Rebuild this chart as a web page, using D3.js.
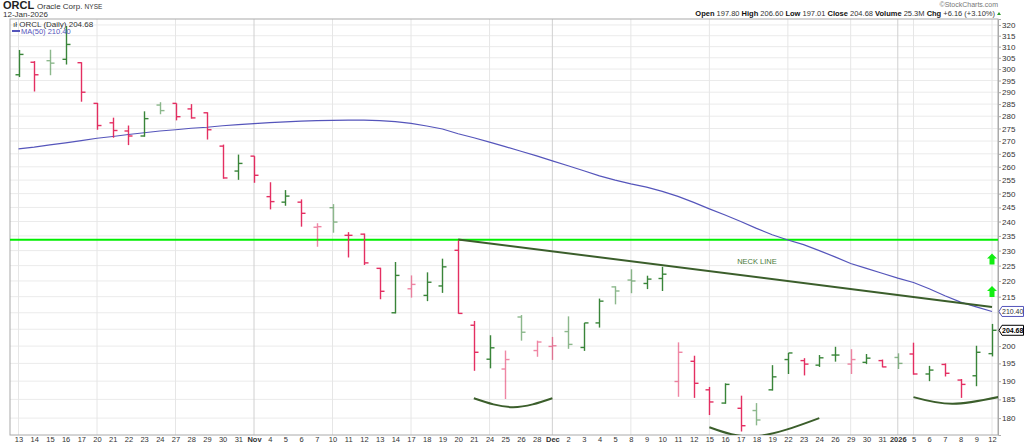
<!DOCTYPE html>
<html>
<head>
<meta charset="utf-8">
<script src="https://cdnjs.cloudflare.com/ajax/libs/d3/7.8.5/d3.min.js"></script>
<style>
body { margin: 0; background: #fff; font-family: Arial, "Liberation Sans", sans-serif; }
</style>
</head>
<body>
<script>
// dates shown on the x axis (one per trading day)
var dates = ["13","14","15","16","17","20","21","22","23","24","27","28","29","30","31",
  "Nov","4","5","6","7","10","11","12","13","14","17","18","19","20","21","24","25","26","28",
  "Dec","2","3","4","5","8","9","10","11","12","15","16","17","18","19","22","23","24","26","29","30","31",
  "2026","5","6","7","8","9","12"];
var opens  = [297.5,303,303.7,304.3,302.8,285.3,277.3,274,272,284.6,285.3,283,281.4,268,258.4,264.1,248.9,246.9,246.9,238,244.9,235.2,235.6,224.1,210,217.5,215.4,218.4,230.1,206.2,196.2,193.4,208.7,198.7,199.9,204.3,199.6,206.9,218.1,220.3,219.2,220.8,189.9,195.6,187.6,184,182.6,182,187.6,196.1,195.8,194.5,197.4,194.8,195.3,195.8,196.7,197.7,192,194.7,190.3,191.5,197.8];
var highs  = [308.5,303.5,308.6,319.5,303,285.5,279.4,276.2,282,285.8,285.3,285,281.6,268.6,264.7,264.1,254.2,251.3,247.9,239.4,246.2,236.3,235.8,224.3,226.2,221.8,222.8,227.3,233.4,207.5,203.2,198.7,209.3,201.6,202.7,208.9,206.9,214.4,218.3,223.8,221.7,224.6,201.1,197.2,188.4,189.4,186,184,194.5,198,196.5,197.4,199.8,199.1,197.7,196.1,197.9,201,194.3,195,190.6,200.1,206.6];
var lows   = [296.5,290.3,297.3,302,286,274.5,271.3,268.4,271.7,280.8,278.3,279,270.6,255.5,255.1,254,244.3,245.6,238.2,231.3,236.1,227.7,225.2,214.2,209.8,214.7,213.6,216.2,209.7,192.9,193.6,185.1,201.6,196.9,196,199.2,198.6,205.5,212.6,216.1,217.4,216.8,185.7,185.4,180.8,183.8,176.5,178.1,187.4,192,191.6,194,195.5,192,194.8,193.9,193.4,191.8,190,191.3,185.4,188.6,197.01];
var closes = [306.5,297.5,302.6,311,290,276.2,274.2,272,279,282.3,279.8,279.3,274.5,255.8,261.3,256.8,247.1,249.1,242.9,238.2,239.8,235.2,225.9,216.7,221.8,218.9,219.6,224.6,209.8,198.2,199.5,196.1,204.1,201.2,200.1,200.5,206.9,213.6,216.8,220,220.6,222.2,198.2,189.4,184.3,189.1,178,179.5,191.2,198,194.8,196.6,197.4,196.1,196.5,194,195,192,193.1,192.2,189.1,198.2,204.68];
var ma50 = [266.9,267.6,268.5,269.3,270.2,271.1,271.8,272.6,273.3,274,274.5,275.1,275.5,276.1,276.6,277,277.4,277.7,278,278.2,278.3,278.4,278.4,278.2,277.8,277.1,276,274.8,272.9,271.3,269.6,267.8,266,264.2,262.3,260.4,258.5,256.6,255,253.6,252.4,250.8,249,246.8,244.5,242.3,240,237.6,235.4,233.6,232,230,227.9,225.7,224.1,222.5,220.9,219.5,217.5,215.3,213.3,211.8,210.4];
var yTicks = d3.range(180, 321, 5);
var gridIdx = [0,5,10,20,25,30,39,44,49,53,57,62];
var monthIdx = [15,34,56];
var resistance = 233.7;
var neckline = [[28, 233.8], [62, 211.8]];
var cups = [
  [[29, 185.3], [31.5, 182.9], [34, 185.3]],
  [[44, 177.6], [47, 175.3], [51, 180.0]],
  [[57, 185.6], [59.5, 183.8], [62.6, 185.8]]
];
var arrows = [227, 216.5];

function draw() {
  var W = 1024, H = 446;
  var pL = 10, pR = 998, pT = 19, pB = 435;
  var svg = d3.select("body").append("svg").attr("width", W).attr("height", H);

  var x = d3.scaleLinear().domain([0, dates.length - 1]).range([18.5, 992]);
  var y = d3.scaleLog().domain([175.6, 322.8]).range([pB, pT]);

  svg.append("defs").append("clipPath").attr("id", "plot")
     .append("rect").attr("x", pL).attr("y", pT).attr("width", pR - pL).attr("height", pB - pT);

  // grid
  svg.selectAll(".hg").data(yTicks).enter().append("line")
     .attr("x1", pL).attr("x2", pR).attr("y1", d => y(d)).attr("y2", d => y(d))
     .attr("stroke", "#ebebeb");
  svg.selectAll(".vg").data(gridIdx).enter().append("line")
     .attr("x1", d => x(d)).attr("x2", d => x(d)).attr("y1", pT).attr("y2", pB)
     .attr("stroke", "#e6e6e6");
  svg.selectAll(".mg").data(monthIdx).enter().append("line")
     .attr("x1", d => x(d)).attr("x2", d => x(d)).attr("y1", pT).attr("y2", pB)
     .attr("stroke", "#d0d0d0");

  svg.append("rect").attr("x", pL).attr("y", pT).attr("width", pR - pL).attr("height", pB - pT)
     .attr("fill", "none").attr("stroke", "#aaa");

  // axes
  var yAxis = d3.axisRight(y).tickValues(yTicks).tickFormat(d3.format("d")).tickSize(3);
  var ga = svg.append("g").attr("transform", "translate(" + pR + ",0)").call(yAxis);
  ga.select(".domain").attr("stroke", "#aaa");
  ga.selectAll("line").attr("stroke", "#aaa");
  ga.selectAll("text").attr("font-size", 8).attr("fill", "#333").attr("x", 4);

  var xAxis = d3.axisBottom(x).tickValues(d3.range(dates.length)).tickFormat(i => dates[i]).tickSize(0);
  var gx = svg.append("g").attr("transform", "translate(0," + pB + ")").call(xAxis);
  gx.select(".domain").remove();
  gx.selectAll("text").attr("font-size", 7.5).attr("fill", "#333").attr("y", 1.5)
    .attr("font-weight", d => monthIdx.includes(d) ? "bold" : "normal");

  var g = svg.append("g").attr("clip-path", "url(#plot)");

  // resistance line
  g.append("line").attr("x1", pL).attr("x2", pR)
   .attr("y1", y(resistance)).attr("y2", y(resistance))
   .attr("stroke", "#00ee00").attr("stroke-width", 2);

  // MA(50)
  g.append("path").datum(ma50)
   .attr("d", d3.line().x((d, i) => x(i)).y(d => y(d)))
   .attr("fill", "none").attr("stroke", "#5555bb").attr("stroke-width", 1.2);

  // neckline
  g.append("line")
   .attr("x1", x(neckline[0][0])).attr("y1", y(neckline[0][1]))
   .attr("x2", x(neckline[1][0])).attr("y2", y(neckline[1][1]))
   .attr("stroke", "#3b5e2b").attr("stroke-width", 2);

  g.append("text").attr("x", 757).attr("y", y(225.6)).attr("text-anchor", "middle")
   .attr("font-size", 7.5).attr("fill", "#4a7a3a").text("NECK LINE");

  // cups
  cups.forEach(function(c) {
    g.append("path").datum(c)
     .attr("d", d3.line().x(d => x(d[0])).y(d => y(d[1])).curve(d3.curveNatural))
     .attr("fill", "none").attr("stroke", "#3b5e2b").attr("stroke-width", 2);
  });

  // arrows
  arrows.forEach(function(v) {
    var cx = 992, cy = y(v);
    g.append("path")
     .attr("d", "M" + cx + "," + (cy - 6) + " L" + (cx + 5) + "," + (cy - 1) + " L" + (cx + 2.5) + "," + (cy - 1) +
          " L" + (cx + 2.5) + "," + (cy + 5) + " L" + (cx - 2.5) + "," + (cy + 5) + " L" + (cx - 2.5) + "," + (cy - 1) +
          " L" + (cx - 5) + "," + (cy - 1) + "Z")
     .attr("fill", "#11ee11");
  });

  // OHLC bars
  d3.range(dates.length).forEach(function(i) {
    var up = i == 0 ? closes[i] > opens[i] : closes[i] >= closes[i - 1];
    var col = up ? "#2f7f2f" : "#e3245a";
    var light = up ? closes[i] < opens[i] : closes[i] > opens[i];
    var bg = g.append("g").attr("stroke", col).attr("stroke-width", 1.4).attr("opacity", light ? 0.55 : 0.95);
    var xi = Math.round(x(i)) + 0.5;
    bg.append("line").attr("x1", xi).attr("x2", xi).attr("y1", y(highs[i])).attr("y2", y(lows[i]));
    bg.append("line").attr("x1", xi - 4).attr("x2", xi).attr("y1", y(opens[i])).attr("y2", y(opens[i]));
    bg.append("line").attr("x1", xi).attr("x2", xi + 4).attr("y1", y(closes[i])).attr("y2", y(closes[i]));
  });

  // legend in plot
  svg.append("text").attr("x", 13).attr("y", 27).attr("font-size", 8).attr("fill", "#333")
     .text("\u0131\u0142 ORCL (Daily) 204.68");
  svg.append("line").attr("x1", 12).attr("x2", 20).attr("y1", 31).attr("y2", 31).attr("stroke", "#5555bb").attr("stroke-width", 2);
  svg.append("text").attr("x", 21).attr("y", 34).attr("font-size", 7.5).attr("fill", "#5555bb").text("MA(50) 210.40");

  // right-side value tags
  [[ma50[ma50.length - 1], "210.40", "#5555bb", "normal"], [closes[closes.length - 1], "204.68", "#000", "bold"]].forEach(function(t) {
    var ty = y(t[0]);
    svg.append("path").attr("d", "M" + (pR + 1) + "," + ty + " l3,-5 h21.5 v10 h-21.5 z")
       .attr("fill", "#fff").attr("stroke", t[2]);
    svg.append("text").attr("x", pR + 4).attr("y", ty + 2.5).attr("font-size", 7)
       .attr("font-weight", t[3]).attr("fill", t[2] == "#000" ? "#000" : "#333").text(t[1]);
  });

  // header
  var hd = svg.append("text").attr("x", 3).attr("y", 9);
  hd.append("tspan").attr("font-size", 11).attr("font-weight", "bold").attr("fill", "#222").text("ORCL ");
  hd.append("tspan").attr("font-size", 8).attr("fill", "#333").text("Oracle Corp. ");
  hd.append("tspan").attr("font-size", 6.5).attr("fill", "#333").text("NYSE");
  svg.append("text").attr("x", 3).attr("y", 17).attr("font-size", 8).attr("fill", "#333").text("12-Jan-2026");

  svg.append("text").attr("x", 998).attr("y", 7).attr("text-anchor", "end").attr("font-size", 7).attr("fill", "#777").text("\u00A9StockCharts.com");
  var st = svg.append("text").attr("x", 995).attr("y", 16).attr("text-anchor", "end").attr("font-size", 7.5).attr("fill", "#333");
  [["Open", "197.80"], ["High", "206.60"], ["Low", "197.01"], ["Close", "204.68"], ["Volume", "25.3M"], ["Chg", "+6.16 (+3.10%)"]].forEach(function(p, k) {
    st.append("tspan").attr("font-weight", "bold").attr("fill", "#111").text(p[0] + " ");
    st.append("tspan").text(p[1] + (k < 5 ? "  " : ""));
  });
  svg.append("path").attr("d", "M997,15 l2,-3 l2,3 z").attr("fill", "#2a9a2a");
}
draw();
</script>
</body>
</html>
